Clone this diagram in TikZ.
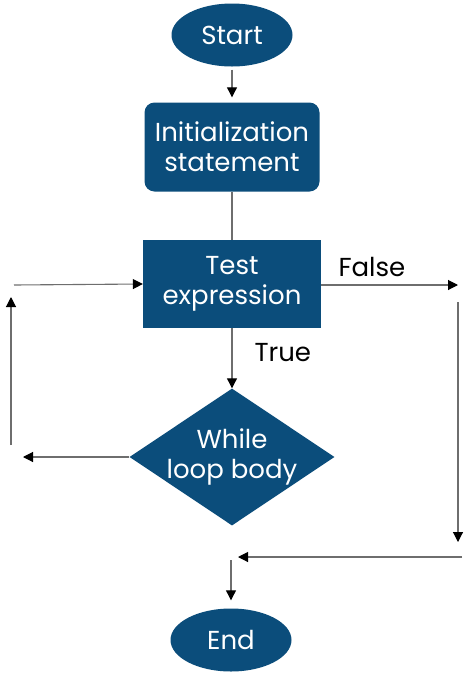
\documentclass[tikz,border=0pt]{standalone}
\usepackage{fontspec}
\setmainfont{Poppins}
\usetikzlibrary{arrows.meta,positioning,shapes.geometric}
\definecolor{LoopBlue}{HTML}{0B4D7B}
\definecolor{WireGray}{HTML}{6E6E6E}

\begin{document}
\begin{tikzpicture}[x=1pt,y=-1pt,
    term/.style={ellipse,fill=LoopBlue,text=white,minimum width=121pt,minimum height=63pt,inner sep=0pt,font=\fontsize{26}{30}\selectfont},
    procbox/.style={rectangle,fill=LoopBlue,text=white,align=center,inner sep=0pt,font=\fontsize{26}{30}\selectfont},
    decision/.style={diamond,fill=LoopBlue,text=white,align=center,aspect=1.5,inner sep=-6pt,minimum width=205pt,minimum height=137pt,font=\fontsize{26}{30}\selectfont},
    lbl/.style={font=\fontsize{26}{30}\selectfont,text=black},
    wire/.style={draw=WireGray,line width=1.1pt},
    flow/.style={wire,-{Triangle[length=10pt,width=10pt,color=black]}}]
    \useasboundingbox (0,0) rectangle (474,678);
    % main column
    \node[term] (start) at (232,35) {Start};
    \node[procbox,rounded corners=10pt,minimum width=175pt,minimum height=89pt] (init) at (232,147) {Initialization\\statement};
    \node[procbox,minimum width=178pt,minimum height=88pt] (test) at (232,284) {Test\\expression};
    \node[decision] (body) at (232,457) {While\\loop body};
    \node[term] (end) at (231,640) {End};
    \node[lbl,anchor=west] (truelbl) at (251,353) {True};
    \node[lbl,anchor=west] (falselbl) at (335,267) {False};
    % free ends of the loop-back and exit wires
    \coordinate (backL) at (23,457);
    \coordinate (upB) at (11,445);
    \coordinate (upT) at (11,297);
    \coordinate (inL) at (14,285);
    \coordinate (outR) at (458,285);
    \coordinate (downT) at (458,302);
    \coordinate (downB) at (458,542);
    \coordinate (exitR) at (462,557);
    \coordinate (exitL) at (238,557);
    \coordinate (finT) at (231,560);
    % connectors
    \draw[flow,shorten <=3pt,shorten >=5pt] (start.south) -- (init.north);
    \draw[wire] (init.south) -- (test.north);
    \draw[flow] (test.south) -- (body.north);
    \draw[flow] (body.west) -- (backL);
    \draw[flow] (upB) -- (upT);
    \draw[flow] (inL) -- (test.west);
    \draw[flow] (test.east |- outR) -- (outR);
    \draw[flow] (downT) -- (downB);
    \draw[flow] (exitR) -- (exitL);
    \draw[flow,shorten >=8pt] (finT) -- (end.north);
\end{tikzpicture}
\end{document}
